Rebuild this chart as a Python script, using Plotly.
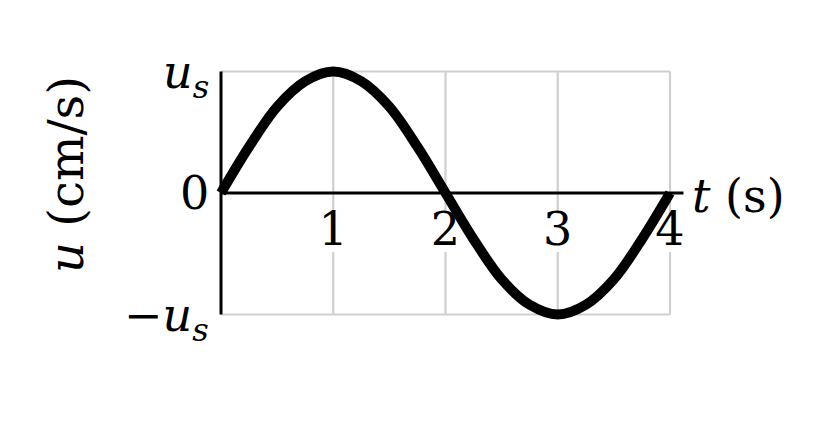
import plotly.graph_objects as go

# Data
t_vals = [0, 0.25, 0.5, 0.75, 1.0, 1.25, 1.5, 1.75, 2.0, 2.25, 2.5, 2.75, 3.0, 3.25, 3.5, 3.75, 4.0]
u_vals = [0, 0.38, 0.71, 0.92, 1.0, 0.92, 0.71, 0.38, 0, -0.38, -0.71, -0.92, -1.0, -0.92, -0.71, -0.38, 0]
x_ticks = [1, 2, 3, 4]
x_tick_labels = ["1", "2", "3", "4"]
y_ticks = [-1, 0, 1]
y_tick_labels = ["\u2212<i>u</i><sub><i>s</i></sub>", "0", "<i>u</i><sub><i>s</i></sub>"]

FONT = "DejaVu Serif"
GRID = "#cfcfcf"
FS = 46
fig = go.Figure()

# grid: vertical gray lines at ticks
for xt in x_ticks:
    fig.add_trace(go.Scatter(x=[xt, xt], y=[y_ticks[0], y_ticks[-1]], mode="lines",
                             line=dict(color=GRID, width=2.2), hoverinfo="skip"))
# horizontal gray lines at top and bottom
for yt in (y_ticks[0], y_ticks[-1]):
    fig.add_trace(go.Scatter(x=[0, x_ticks[-1]], y=[yt, yt], mode="lines",
                             line=dict(color=GRID, width=2.2), hoverinfo="skip"))

# axes (black)
fig.add_trace(go.Scatter(x=[0, 0], y=[y_ticks[0], y_ticks[-1]], mode="lines",
                         line=dict(color="black", width=3), hoverinfo="skip"))
fig.add_trace(go.Scatter(x=[0, 4.12], y=[0, 0], mode="lines",
                         line=dict(color="black", width=3), hoverinfo="skip"))

# tick labels with white background boxes
lab_y = [-0.33] * len(x_ticks)
fig.add_trace(go.Scatter(x=x_ticks, y=lab_y, mode="markers",
                         marker=dict(symbol="square", size=38, color="white"),
                         hoverinfo="skip"))
fig.add_trace(go.Scatter(x=x_ticks, y=lab_y, mode="text", text=x_tick_labels,
                         textfont=dict(family=FONT, size=FS, color="black"),
                         hoverinfo="skip"))

# curve
fig.add_trace(go.Scatter(x=t_vals, y=u_vals, mode="lines",
                         line=dict(color="black", width=10, shape="spline"),
                         hoverinfo="skip"))

annotations = []
for yv, lab in zip(y_ticks, y_tick_labels):
    annotations.append(dict(x=0, y=yv, xref="x", yref="y", text=lab, showarrow=False,
                            xanchor="right", yanchor="middle", xshift=-10,
                            yshift=-4 if yv != 0 else 0,
                            font=dict(family=FONT, size=FS, color="black")))
annotations.append(dict(x=4.12, y=0, xref="x", yref="y", text="<i>t</i> (s)", showarrow=False,
                        xanchor="left", yanchor="middle", xshift=7, yshift=-3,
                        font=dict(family=FONT, size=FS, color="black")))
annotations.append(dict(x=-1.38, y=0.15, xref="x", yref="y", text="<i>u</i> (cm/s)", showarrow=False,
                        textangle=-90, xanchor="center", yanchor="middle",
                        font=dict(family=FONT, size=FS + 2, color="black")))

X0, Y0 = 213, 185  # pixel position of the origin inside the plot (page has 8px body margin)
fig.update_layout(
    width=836, height=428,
    margin=dict(l=0, r=0, t=0, b=0),
    paper_bgcolor="white", plot_bgcolor="white",
    showlegend=False,
    annotations=annotations,
    xaxis=dict(range=[-X0 / 112.25, (836 - X0) / 112.25], visible=False, fixedrange=True),
    yaxis=dict(range=[-(428 - Y0) / 121.5, Y0 / 121.5], visible=False, fixedrange=True),
)

fig.write_html("out.html")
